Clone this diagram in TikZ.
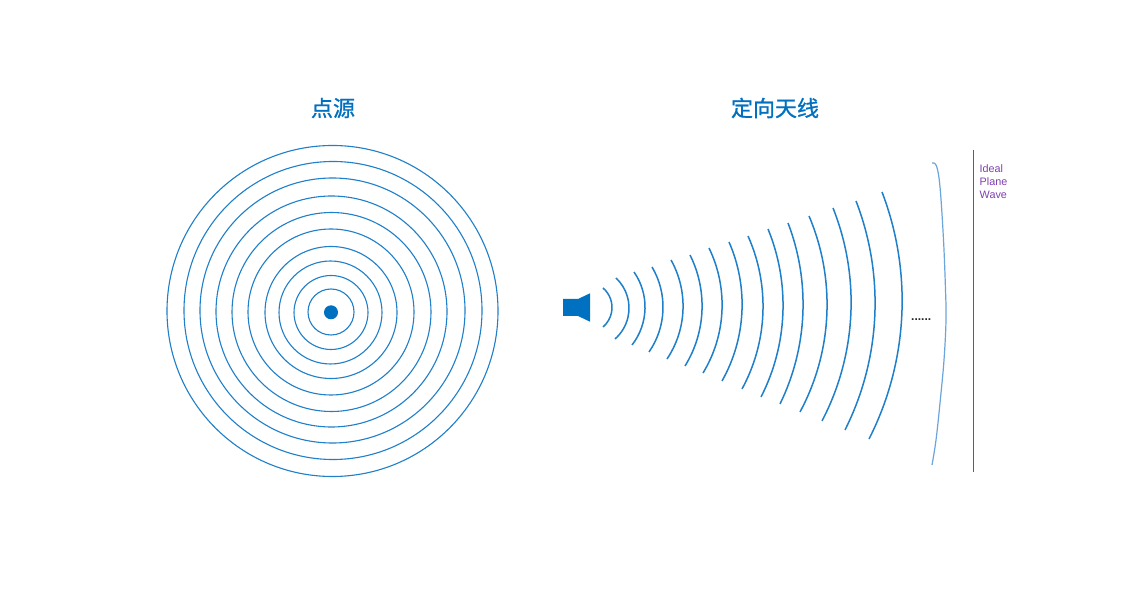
\documentclass[tikz,border=0pt]{standalone}
\usepackage{fontspec}
\setmainfont{Liberation Sans}
\newfontfamily\cjk[FakeBold=1]{Noto Sans CJK SC}
\definecolor{ringblue}{HTML}{1F7FC8}
\definecolor{solidblue}{HTML}{0070C0}
\definecolor{paleblue}{HTML}{6AA5DC}
\definecolor{planepurple}{HTML}{8040B0}
\tikzset{
  ring/.style={draw=ringblue,line width=1.1pt},
  wave/.style={draw=ringblue,line width=1.5pt},
  title/.style={text=solidblue,font=\cjk\fontsize{22}{24}\selectfont,inner sep=0pt},
  planelabel/.style={text=planepurple,font=\fontsize{10.8}{13}\selectfont,inner sep=0pt,anchor=base west}
}
% arc through top point, apex and bottom point (pixel coordinates, y downward)
\newcommand\wavearc[6]{%
  \pgfmathsetmacro\waveA{(#1-#5)/100}%
  \pgfmathsetmacro\waveB{(#6-#2)/100}%
  \pgfmathsetmacro\waveC{(#3-#5)/100}%
  \pgfmathsetmacro\waveD{(#6-#4)/100}%
  \pgfmathsetmacro\waveDet{2*(\waveA*\waveD-\waveB*\waveC)}%
  \pgfmathsetmacro\waveP{\waveA*\waveA+\waveB*\waveB}%
  \pgfmathsetmacro\waveQ{\waveC*\waveC+\waveD*\waveD}%
  \pgfmathsetmacro\waveUx{(\waveD*\waveP-\waveB*\waveQ)/\waveDet}%
  \pgfmathsetmacro\waveUy{(\waveA*\waveQ-\waveC*\waveP)/\waveDet}%
  \pgfmathsetmacro\waveR{100*sqrt(\waveUx*\waveUx+\waveUy*\waveUy)}%
  \pgfmathsetmacro\waveS{atan2(\waveB-\waveUy,\waveA-\waveUx)}%
  \pgfmathsetmacro\waveE{atan2(\waveD-\waveUy,\waveC-\waveUx)}%
  \draw[wave] (#1,597-#2) arc[start angle=\waveS,end angle=\waveE,radius=\waveR];%
}
\begin{document}
\begin{tikzpicture}[x=1pt,y=1pt]
\useasboundingbox (0,0) rectangle (1137,597);
\fill[white] (0,0) rectangle (1137,597);
% point source
\foreach \cx/\cy/\r in {332.5/311/165.5,333/310.5/149,332.5/310.5/132.5,331.5/311.5/115.5,331.5/312/99.5,331/312/83,331/312.5/66,330.5/312.5/51.5,331/312.5/37,331/312/23}
  \draw[ring] (\cx,597-\cy) circle[radius=\r];
\fill[solidblue] (331,597-312.3) circle[radius=7];
\node[title] (t1) at (333,597-108) {点源};
\node[title] (t2) at (775,597-108) {定向天线};
% speaker
\fill[solidblue] (563,597-299) -- (578,597-299) -- (590,597-293.3) -- (590,597-321.7) -- (578,597-316) -- (563,597-316) -- cycle;
% waves
\wavearc{603}{288}{603}{327}{612}{308}
\wavearc{616}{278}{615}{339}{629}{308.5}
\wavearc{634}{272}{632}{345}{645}{309}
\wavearc{652}{267}{649}{352}{663}{309}
\wavearc{671}{260}{667}{359}{683}{309.5}
\wavearc{690}{255}{685}{366}{702}{310}
\wavearc{709}{248}{703}{373}{722}{310}
\wavearc{729}{242}{722}{381}{742}{310}
\wavearc{748}{236}{742}{389}{763}{310}
\wavearc{768}{229}{761}{397}{783}{310}
\wavearc{788}{223}{780}{404}{803}{310}
\wavearc{809}{216}{800}{412}{827}{310}
\wavearc{833}{208}{822}{421}{851}{310}
\wavearc{856}{201}{845}{430}{875}{310}
\wavearc{882}{192}{869}{439}{902}{310}
% dots
\node[inner sep=0pt,anchor=base west,text=black!85,font=\bfseries\fontsize{12}{14}\selectfont] (dots) at (911,597-321) {......};
% nearly plane front
\draw[paleblue,line width=1.2pt] plot[smooth,tension=0.6] coordinates {(932,597-163) (936.5,597-166) (940,597-187) (943.5,597-240) (945.5,597-290) (946,597-320) (944,597-360) (940,597-403) (936,597-440) (932,597-465)};
% ideal plane wave
\draw[planepurple,line width=1.6pt] (973.5,597-150) -- (973.5,597-472);
\node[planelabel] (l1) at (979.5,597-173) {Ideal};
\node[planelabel] (l2) at (979.5,597-186) {Plane};
\node[planelabel] (l3) at (979.5,597-199) {Wave};
\end{tikzpicture}
\end{document}
